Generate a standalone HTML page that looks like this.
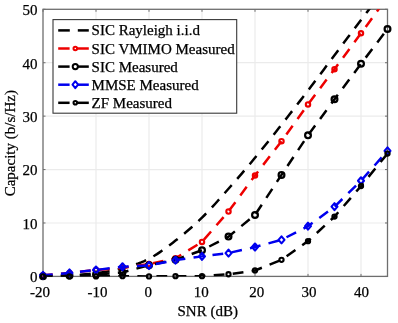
<!DOCTYPE html><html><head><meta charset="utf-8"><style>html,body{margin:0;padding:0;background:#fff;width:398px;height:323px;overflow:hidden}svg{display:block;will-change:transform}text{font-family:"Liberation Serif",serif;font-size:15px;fill:#000;stroke:#000;stroke-width:0.25px}</style></head><body>
<svg width="398" height="323" viewBox="0 0 398 323">
<defs><clipPath id="c"><rect x="43.0" y="9.3" width="344.5" height="267.1"/></clipPath></defs>
<line x1="96.00" y1="9.3" x2="96.00" y2="276.4" stroke="#ebebeb" stroke-width="1.2"/>
<line x1="149.00" y1="9.3" x2="149.00" y2="276.4" stroke="#ebebeb" stroke-width="1.2"/>
<line x1="202.00" y1="9.3" x2="202.00" y2="276.4" stroke="#ebebeb" stroke-width="1.2"/>
<line x1="255.00" y1="9.3" x2="255.00" y2="276.4" stroke="#ebebeb" stroke-width="1.2"/>
<line x1="308.00" y1="9.3" x2="308.00" y2="276.4" stroke="#ebebeb" stroke-width="1.2"/>
<line x1="361.00" y1="9.3" x2="361.00" y2="276.4" stroke="#ebebeb" stroke-width="1.2"/>
<line x1="43.0" y1="222.98" x2="387.5" y2="222.98" stroke="#ebebeb" stroke-width="1.2"/>
<line x1="43.0" y1="169.56" x2="387.5" y2="169.56" stroke="#ebebeb" stroke-width="1.2"/>
<line x1="43.0" y1="116.14" x2="387.5" y2="116.14" stroke="#ebebeb" stroke-width="1.2"/>
<line x1="43.0" y1="62.72" x2="387.5" y2="62.72" stroke="#ebebeb" stroke-width="1.2"/>
<rect x="43.0" y="9.3" width="344.5" height="267.1" fill="none" stroke="#6e6e6e" stroke-width="1.3"/>
<line x1="43.00" y1="276.4" x2="43.00" y2="273.9" stroke="#6e6e6e" stroke-width="1"/>
<line x1="43.00" y1="9.3" x2="43.00" y2="11.8" stroke="#6e6e6e" stroke-width="1"/>
<line x1="96.00" y1="276.4" x2="96.00" y2="273.9" stroke="#6e6e6e" stroke-width="1"/>
<line x1="96.00" y1="9.3" x2="96.00" y2="11.8" stroke="#6e6e6e" stroke-width="1"/>
<line x1="149.00" y1="276.4" x2="149.00" y2="273.9" stroke="#6e6e6e" stroke-width="1"/>
<line x1="149.00" y1="9.3" x2="149.00" y2="11.8" stroke="#6e6e6e" stroke-width="1"/>
<line x1="202.00" y1="276.4" x2="202.00" y2="273.9" stroke="#6e6e6e" stroke-width="1"/>
<line x1="202.00" y1="9.3" x2="202.00" y2="11.8" stroke="#6e6e6e" stroke-width="1"/>
<line x1="255.00" y1="276.4" x2="255.00" y2="273.9" stroke="#6e6e6e" stroke-width="1"/>
<line x1="255.00" y1="9.3" x2="255.00" y2="11.8" stroke="#6e6e6e" stroke-width="1"/>
<line x1="308.00" y1="276.4" x2="308.00" y2="273.9" stroke="#6e6e6e" stroke-width="1"/>
<line x1="308.00" y1="9.3" x2="308.00" y2="11.8" stroke="#6e6e6e" stroke-width="1"/>
<line x1="361.00" y1="276.4" x2="361.00" y2="273.9" stroke="#6e6e6e" stroke-width="1"/>
<line x1="361.00" y1="9.3" x2="361.00" y2="11.8" stroke="#6e6e6e" stroke-width="1"/>
<line x1="43.0" y1="276.40" x2="45.5" y2="276.40" stroke="#6e6e6e" stroke-width="1"/>
<line x1="387.5" y1="276.40" x2="385.0" y2="276.40" stroke="#6e6e6e" stroke-width="1"/>
<line x1="43.0" y1="222.98" x2="45.5" y2="222.98" stroke="#6e6e6e" stroke-width="1"/>
<line x1="387.5" y1="222.98" x2="385.0" y2="222.98" stroke="#6e6e6e" stroke-width="1"/>
<line x1="43.0" y1="169.56" x2="45.5" y2="169.56" stroke="#6e6e6e" stroke-width="1"/>
<line x1="387.5" y1="169.56" x2="385.0" y2="169.56" stroke="#6e6e6e" stroke-width="1"/>
<line x1="43.0" y1="116.14" x2="45.5" y2="116.14" stroke="#6e6e6e" stroke-width="1"/>
<line x1="387.5" y1="116.14" x2="385.0" y2="116.14" stroke="#6e6e6e" stroke-width="1"/>
<line x1="43.0" y1="62.72" x2="45.5" y2="62.72" stroke="#6e6e6e" stroke-width="1"/>
<line x1="387.5" y1="62.72" x2="385.0" y2="62.72" stroke="#6e6e6e" stroke-width="1"/>
<line x1="43.0" y1="9.30" x2="45.5" y2="9.30" stroke="#6e6e6e" stroke-width="1"/>
<line x1="387.5" y1="9.30" x2="385.0" y2="9.30" stroke="#6e6e6e" stroke-width="1"/>
<polyline clip-path="url(#c)" points="43.00,276.13 44.58,276.09 46.60,276.05 49.00,275.99 51.69,275.93 54.59,275.87 57.63,275.79 60.72,275.70 63.78,275.59 66.73,275.47 69.50,275.33 72.15,275.18 74.80,275.03 77.45,274.87 80.10,274.70 82.75,274.51 85.40,274.31 88.05,274.07 90.70,273.81 93.35,273.52 96.00,273.19 98.65,272.84 101.30,272.48 103.95,272.10 106.60,271.69 109.25,271.26 111.90,270.78 114.55,270.27 117.20,269.70 119.85,269.07 122.50,268.39 125.15,267.66 127.80,266.91 130.45,266.12 133.10,265.30 135.75,264.41 138.40,263.46 141.05,262.44 143.70,261.32 146.35,260.10 149.00,258.77 151.65,257.32 154.30,255.76 156.95,254.10 159.60,252.35 162.25,250.52 164.90,248.63 167.55,246.68 170.20,244.69 172.85,242.66 175.50,240.61 178.15,238.53 180.80,236.42 183.45,234.26 186.10,232.05 188.75,229.79 191.40,227.48 194.05,225.11 196.70,222.69 199.35,220.19 202.00,217.64 204.65,215.00 207.30,212.28 209.95,209.48 212.60,206.62 215.25,203.72 217.90,200.77 220.55,197.79 223.20,194.79 225.85,191.79 228.50,188.79 231.15,185.79 233.80,182.77 236.45,179.72 239.10,176.65 241.75,173.57 244.40,170.46 247.05,167.33 249.70,164.18 252.35,161.00 255.00,157.81 257.65,154.59 260.30,151.34 262.95,148.06 265.60,144.76 268.25,141.45 270.90,138.11 273.55,134.77 276.20,131.41 278.85,128.05 281.50,124.69 284.15,121.32 286.80,117.93 289.45,114.54 292.10,111.14 294.75,107.73 297.40,104.30 300.05,100.87 302.70,97.42 305.35,93.97 308.00,90.50 310.65,87.02 313.30,83.52 315.95,80.00 318.60,76.47 321.25,72.94 323.90,69.40 326.55,65.85 329.20,62.31 331.85,58.77 334.50,55.24 337.15,51.71 339.80,48.18 342.45,44.65 345.10,41.11 347.75,37.58 350.40,34.05 353.05,30.52 355.70,27.00 358.35,23.49 361.00,19.98 363.77,16.33 366.72,12.45 369.78,8.43 372.87,4.39 375.91,0.42 378.81,-3.38 381.50,-6.89 383.90,-10.03 385.92,-12.68 387.50,-14.74" fill="none" stroke="#000" stroke-width="2.50" stroke-dasharray="10.8 8.3" stroke-dashoffset="1.25"/>
<polyline clip-path="url(#c)" points="43.00,275.33 69.50,272.93 96.00,269.99 122.50,267.85 149.00,264.11" fill="none" stroke="#ee0000" stroke-width="2.50" stroke-dasharray="10.8 8.3" stroke-dashoffset="1.05"/>
<polyline clip-path="url(#c)" points="149.00,264.11 175.50,258.24 202.00,241.94 228.50,211.49 255.00,175.44 281.50,141.25 308.00,104.39 334.50,69.13 361.00,33.34 387.50,-2.99" fill="none" stroke="#ee0000" stroke-width="2.50" stroke-dasharray="10.8 8.3" stroke-dashoffset="15.17"/>
<circle cx="43.00" cy="275.33" r="2.20" fill="none" stroke="#ee0000" stroke-width="2.10"/>
<circle cx="69.50" cy="272.93" r="2.20" fill="none" stroke="#ee0000" stroke-width="2.10"/>
<circle cx="96.00" cy="269.99" r="2.20" fill="none" stroke="#ee0000" stroke-width="2.10"/>
<circle cx="122.50" cy="267.85" r="2.20" fill="none" stroke="#ee0000" stroke-width="2.10"/>
<circle cx="149.00" cy="264.11" r="2.20" fill="none" stroke="#ee0000" stroke-width="2.10"/>
<circle cx="175.50" cy="258.24" r="2.20" fill="none" stroke="#ee0000" stroke-width="2.10"/>
<circle cx="202.00" cy="241.94" r="2.20" fill="none" stroke="#ee0000" stroke-width="2.10"/>
<circle cx="228.50" cy="211.49" r="2.20" fill="none" stroke="#ee0000" stroke-width="2.10"/>
<circle cx="255.00" cy="175.44" r="2.20" fill="none" stroke="#ee0000" stroke-width="2.10"/>
<circle cx="281.50" cy="141.25" r="2.20" fill="none" stroke="#ee0000" stroke-width="2.10"/>
<circle cx="308.00" cy="104.39" r="2.20" fill="none" stroke="#ee0000" stroke-width="2.10"/>
<circle cx="334.50" cy="69.13" r="2.20" fill="none" stroke="#ee0000" stroke-width="2.10"/>
<circle cx="361.00" cy="33.34" r="2.20" fill="none" stroke="#ee0000" stroke-width="2.10"/>
<polyline clip-path="url(#c)" points="43.00,276.13 69.50,275.60 96.00,274.53 122.50,272.39 149.00,265.18 175.50,259.84 202.00,250.22 228.50,236.60 255.00,214.97 281.50,174.90 308.00,135.37 334.50,99.31 361.00,63.79 387.50,29.07" fill="none" stroke="#000" stroke-width="2.50" stroke-dasharray="10.8 8.3" stroke-dashoffset="1.45"/>
<circle cx="43.00" cy="276.13" r="2.90" fill="none" stroke="#000" stroke-width="2.20"/>
<circle cx="69.50" cy="275.60" r="2.90" fill="none" stroke="#000" stroke-width="2.20"/>
<circle cx="96.00" cy="274.53" r="2.90" fill="none" stroke="#000" stroke-width="2.20"/>
<circle cx="122.50" cy="272.39" r="2.90" fill="none" stroke="#000" stroke-width="2.20"/>
<circle cx="149.00" cy="265.18" r="2.90" fill="none" stroke="#000" stroke-width="2.20"/>
<circle cx="175.50" cy="259.84" r="2.90" fill="none" stroke="#000" stroke-width="2.20"/>
<circle cx="202.00" cy="250.22" r="2.90" fill="none" stroke="#000" stroke-width="2.20"/>
<circle cx="228.50" cy="236.60" r="2.90" fill="none" stroke="#000" stroke-width="2.20"/>
<circle cx="255.00" cy="214.97" r="2.90" fill="none" stroke="#000" stroke-width="2.20"/>
<circle cx="281.50" cy="174.90" r="2.90" fill="none" stroke="#000" stroke-width="2.20"/>
<circle cx="308.00" cy="135.37" r="2.90" fill="none" stroke="#000" stroke-width="2.20"/>
<circle cx="334.50" cy="99.31" r="2.90" fill="none" stroke="#000" stroke-width="2.20"/>
<circle cx="361.00" cy="63.79" r="2.90" fill="none" stroke="#000" stroke-width="2.20"/>
<circle cx="387.50" cy="29.07" r="2.90" fill="none" stroke="#000" stroke-width="2.20"/>
<polyline clip-path="url(#c)" points="43.00,275.33 69.50,272.93 96.00,269.99 122.50,266.78 149.00,265.45 175.50,260.11 202.00,256.37 228.50,253.06 255.00,247.02 281.50,239.81 308.00,226.19 334.50,206.69 361.00,180.78 387.50,150.86" fill="none" stroke="#0000ee" stroke-width="2.50" stroke-dasharray="10.8 8.3" stroke-dashoffset="1.05"/>
<path d="M43.00 271.83L46.00 275.33L43.00 278.83L40.00 275.33Z" fill="none" stroke="#0000ee" stroke-width="2.10" stroke-linejoin="round"/>
<path d="M69.50 269.43L72.50 272.93L69.50 276.43L66.50 272.93Z" fill="none" stroke="#0000ee" stroke-width="2.10" stroke-linejoin="round"/>
<path d="M96.00 266.49L99.00 269.99L96.00 273.49L93.00 269.99Z" fill="none" stroke="#0000ee" stroke-width="2.10" stroke-linejoin="round"/>
<path d="M122.50 263.28L125.50 266.78L122.50 270.28L119.50 266.78Z" fill="none" stroke="#0000ee" stroke-width="2.10" stroke-linejoin="round"/>
<path d="M149.00 261.95L152.00 265.45L149.00 268.95L146.00 265.45Z" fill="none" stroke="#0000ee" stroke-width="2.10" stroke-linejoin="round"/>
<path d="M175.50 256.61L178.50 260.11L175.50 263.61L172.50 260.11Z" fill="none" stroke="#0000ee" stroke-width="2.10" stroke-linejoin="round"/>
<path d="M202.00 252.87L205.00 256.37L202.00 259.87L199.00 256.37Z" fill="none" stroke="#0000ee" stroke-width="2.10" stroke-linejoin="round"/>
<path d="M228.50 249.56L231.50 253.06L228.50 256.56L225.50 253.06Z" fill="none" stroke="#0000ee" stroke-width="2.10" stroke-linejoin="round"/>
<path d="M255.00 243.52L258.00 247.02L255.00 250.52L252.00 247.02Z" fill="none" stroke="#0000ee" stroke-width="2.10" stroke-linejoin="round"/>
<path d="M281.50 236.31L284.50 239.81L281.50 243.31L278.50 239.81Z" fill="none" stroke="#0000ee" stroke-width="2.10" stroke-linejoin="round"/>
<path d="M308.00 222.69L311.00 226.19L308.00 229.69L305.00 226.19Z" fill="none" stroke="#0000ee" stroke-width="2.10" stroke-linejoin="round"/>
<path d="M334.50 203.19L337.50 206.69L334.50 210.19L331.50 206.69Z" fill="none" stroke="#0000ee" stroke-width="2.10" stroke-linejoin="round"/>
<path d="M361.00 177.28L364.00 180.78L361.00 184.28L358.00 180.78Z" fill="none" stroke="#0000ee" stroke-width="2.10" stroke-linejoin="round"/>
<path d="M387.50 147.36L390.50 150.86L387.50 154.36L384.50 150.86Z" fill="none" stroke="#0000ee" stroke-width="2.10" stroke-linejoin="round"/>
<polyline clip-path="url(#c)" points="43.00,276.40 69.50,276.40 96.00,276.40 122.50,276.13 149.00,276.40 175.50,276.13 202.00,276.13 228.50,274.26 255.00,270.52 281.50,259.84 308.00,241.14 334.50,216.57 361.00,186.12 387.50,153.53" fill="none" stroke="#000" stroke-width="2.50" stroke-dasharray="10.8 8.3" stroke-dashoffset="1.15"/>
<circle cx="43.00" cy="276.40" r="2.10" fill="none" stroke="#000" stroke-width="2.10"/>
<circle cx="69.50" cy="276.40" r="2.10" fill="none" stroke="#000" stroke-width="2.10"/>
<circle cx="96.00" cy="276.40" r="2.10" fill="none" stroke="#000" stroke-width="2.10"/>
<circle cx="122.50" cy="276.13" r="2.10" fill="none" stroke="#000" stroke-width="2.10"/>
<circle cx="149.00" cy="276.40" r="2.10" fill="none" stroke="#000" stroke-width="2.10"/>
<circle cx="175.50" cy="276.13" r="2.10" fill="none" stroke="#000" stroke-width="2.10"/>
<circle cx="202.00" cy="276.13" r="2.10" fill="none" stroke="#000" stroke-width="2.10"/>
<circle cx="228.50" cy="274.26" r="2.10" fill="none" stroke="#000" stroke-width="2.10"/>
<circle cx="255.00" cy="270.52" r="2.10" fill="none" stroke="#000" stroke-width="2.10"/>
<circle cx="281.50" cy="259.84" r="2.10" fill="none" stroke="#000" stroke-width="2.10"/>
<circle cx="308.00" cy="241.14" r="2.10" fill="none" stroke="#000" stroke-width="2.10"/>
<circle cx="334.50" cy="216.57" r="2.10" fill="none" stroke="#000" stroke-width="2.10"/>
<circle cx="361.00" cy="186.12" r="2.10" fill="none" stroke="#000" stroke-width="2.10"/>
<circle cx="387.50" cy="153.53" r="2.10" fill="none" stroke="#000" stroke-width="2.10"/>
<text x="40.1" y="297.3" text-anchor="middle">-20</text>
<text x="97.4" y="297.3" text-anchor="middle">-10</text>
<text x="148.3" y="297.3" text-anchor="middle">0</text>
<text x="201.3" y="297.3" text-anchor="middle">10</text>
<text x="256.7" y="297.3" text-anchor="middle">20</text>
<text x="309.0" y="297.3" text-anchor="middle">30</text>
<text x="361.6" y="297.3" text-anchor="middle">40</text>
<text x="37.5" y="282.20" text-anchor="end">0</text>
<text x="37.5" y="228.78" text-anchor="end">10</text>
<text x="37.5" y="175.36" text-anchor="end">20</text>
<text x="37.5" y="121.94" text-anchor="end">30</text>
<text x="37.5" y="68.52" text-anchor="end">40</text>
<text x="37.5" y="15.10" text-anchor="end">50</text>
<text x="207.7" y="316.2" text-anchor="middle">SNR (dB)</text>
<text transform="translate(15.2,143.2) rotate(-90)" text-anchor="middle">Capacity (b/s/Hz)</text>
<rect x="53" y="19.6" width="183.7" height="93.6" fill="#fff" stroke="#383838" stroke-width="1.1"/>
<line x1="58.2" y1="30.40" x2="69.8" y2="30.40" stroke="#000" stroke-width="2.5"/>
<line x1="77.8" y1="30.40" x2="88.8" y2="30.40" stroke="#000" stroke-width="2.5"/>
<text x="91.6" y="35.00">SIC Rayleigh i.i.d</text>
<line x1="58.2" y1="48.50" x2="69.6" y2="48.50" stroke="#ee0000" stroke-width="2.5"/>
<line x1="74" y1="48.50" x2="88.8" y2="48.50" stroke="#ee0000" stroke-width="2.5"/>
<circle cx="75.30" cy="48.50" r="1.8" fill="#fff" stroke="#ee0000" stroke-width="2"/>
<text x="91.6" y="54.00">SIC VMIMO Measured</text>
<line x1="58.2" y1="66.60" x2="69.6" y2="66.60" stroke="#000" stroke-width="2.5"/>
<line x1="74" y1="66.60" x2="88.8" y2="66.60" stroke="#000" stroke-width="2.5"/>
<circle cx="75.30" cy="66.60" r="2.6" fill="#fff" stroke="#000" stroke-width="2"/>
<text x="91.6" y="72.00">SIC Measured</text>
<line x1="58.2" y1="84.70" x2="69.6" y2="84.70" stroke="#0000ee" stroke-width="2.5"/>
<line x1="74" y1="84.70" x2="88.8" y2="84.70" stroke="#0000ee" stroke-width="2.5"/>
<path d="M75.30 81.20L78.10 84.70L75.30 88.20L72.50 84.70Z" fill="#fff" stroke="#0000ee" stroke-width="2" stroke-linejoin="round"/>
<text x="91.6" y="90.00">MMSE Measured</text>
<line x1="58.2" y1="102.80" x2="69.6" y2="102.80" stroke="#000" stroke-width="2.5"/>
<line x1="74" y1="102.80" x2="88.8" y2="102.80" stroke="#000" stroke-width="2.5"/>
<circle cx="75.30" cy="102.80" r="1.8" fill="#fff" stroke="#000" stroke-width="2"/>
<text x="91.6" y="108.00">ZF Measured</text>
</svg></body></html>
